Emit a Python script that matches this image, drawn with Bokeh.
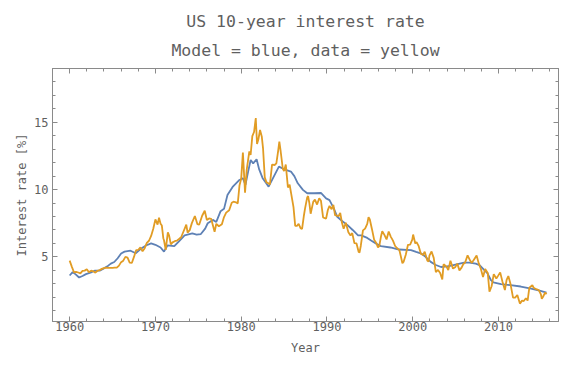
from bokeh.plotting import figure
from bokeh.models import (LinearAxis, Title, SingleIntervalTicker, Range1d,
                          ColumnDataSource, CustomLabelingPolicy)
from bokeh.embed import file_html
from bokeh.resources import INLINE

# ---------------- data ----------------
data_year = [
    1960.0, 1960.25, 1960.5, 1960.75, 1961.0, 1961.25, 1961.5, 1961.75,
    1962.0, 1962.25, 1962.5, 1962.75, 1963.0, 1963.25, 1963.5, 1963.75,
    1964.0, 1964.25, 1964.5, 1964.75, 1965.0, 1965.25, 1965.5, 1965.75,
    1966.0, 1966.25, 1966.5, 1966.75, 1967.0, 1967.25, 1967.5, 1967.75,
    1968.0, 1968.25, 1968.5, 1968.75, 1969.0, 1969.25, 1969.5, 1969.75,
    1970.0, 1970.25, 1970.42, 1970.6, 1970.75, 1970.92, 1971.0, 1971.2,
    1971.45, 1971.6, 1971.8, 1972.0, 1972.25, 1972.5, 1972.75, 1973.0,
    1973.25, 1973.6, 1973.75, 1974.0, 1974.25, 1974.6, 1974.9, 1975.1,
    1975.45, 1975.75, 1976.0, 1976.25, 1976.5, 1976.9, 1977.1, 1977.4,
    1977.75, 1978.0, 1978.25, 1978.6, 1978.9, 1979.1, 1979.4, 1979.6,
    1979.8, 1980.0, 1980.2, 1980.45, 1980.65, 1980.95, 1981.1, 1981.3,
    1981.5, 1981.7, 1981.85, 1982.0, 1982.2, 1982.4, 1982.55, 1982.75,
    1982.95, 1983.1, 1983.35, 1983.6, 1983.9, 1984.1, 1984.3, 1984.45,
    1984.6, 1984.85, 1985.0, 1985.2, 1985.45, 1985.65, 1985.95, 1986.1,
    1986.3, 1986.5, 1986.7, 1986.95, 1987.1, 1987.3, 1987.45, 1987.7,
    1987.8, 1987.95, 1988.1, 1988.4, 1988.6, 1988.85, 1989.1, 1989.3,
    1989.55, 1989.9, 1990.1, 1990.3, 1990.55, 1990.75, 1990.95, 1991.1,
    1991.35, 1991.55, 1991.75, 1991.95, 1992.2, 1992.5, 1992.75, 1992.95,
    1993.2, 1993.45, 1993.7, 1993.8, 1993.95, 1994.2, 1994.45, 1994.7,
    1994.85, 1995.0, 1995.25, 1995.5, 1995.75, 1995.95, 1996.1, 1996.3,
    1996.45, 1996.7, 1996.95, 1997.2, 1997.45, 1997.7, 1997.95, 1998.2,
    1998.45, 1998.7, 1998.8, 1998.95, 1999.2, 1999.45, 1999.7, 1999.95,
    2000.05, 2000.3, 2000.45, 2000.7, 2000.95, 2001.2, 2001.4, 2001.7,
    2001.85, 2001.95, 2002.2, 2002.45, 2002.7, 2002.95, 2003.2, 2003.45,
    2003.6, 2003.95, 2004.15, 2004.4, 2004.7, 2004.95, 2005.2, 2005.45,
    2005.7, 2005.9, 2006.1, 2006.4, 2006.7, 2006.9, 2007.1, 2007.45,
    2007.7, 2007.95, 2008.2, 2008.45, 2008.75, 2008.95, 2009.2, 2009.45,
    2009.75, 2009.95, 2010.2, 2010.45, 2010.75, 2010.95, 2011.15, 2011.4,
    2011.7, 2011.95, 2012.2, 2012.5, 2012.75, 2012.95, 2013.2, 2013.4,
    2013.6, 2013.95, 2014.1, 2014.4, 2014.7, 2014.95, 2015.05, 2015.2,
    2015.45, 2015.6,
]
data_rate = [
    4.72, 4.28, 3.86, 3.89, 3.84, 3.78, 3.96, 3.98,
    4.08, 3.86, 3.98, 3.93, 3.83, 3.97, 4.02, 4.11,
    4.17, 4.20, 4.19, 4.19, 4.19, 4.20, 4.20, 4.35,
    4.61, 4.72, 5.00, 4.94, 4.58, 4.55, 5.00, 5.50,
    5.53, 5.70, 5.42, 5.65, 6.04, 6.20, 6.56, 7.09,
    7.79, 7.40, 7.91, 7.46, 7.33, 6.39, 6.24, 5.53,
    6.82, 6.58, 5.93, 6.08, 6.17, 6.21, 6.33, 6.46,
    6.85, 7.40, 6.80, 6.99, 7.51, 8.04, 7.43, 7.39,
    8.06, 8.43, 7.74, 7.86, 7.83, 6.87, 7.46, 7.28,
    7.43, 7.96, 8.29, 8.47, 9.03, 9.10, 9.06, 8.97,
    10.30, 10.80, 12.75, 9.78, 11.50, 12.84, 12.57, 13.98,
    14.28, 15.32, 13.39, 13.72, 14.43, 13.95, 13.06, 10.91,
    10.54, 10.50, 10.38, 11.85, 11.83, 11.95, 12.83, 13.56,
    12.87, 11.57, 11.38, 11.86, 10.16, 10.37, 9.26, 8.70,
    7.30, 7.30, 7.45, 7.11, 7.08, 8.02, 8.61, 9.42,
    9.52, 8.99, 8.21, 9.09, 9.26, 8.89, 9.36, 9.18,
    7.93, 7.84, 8.47, 8.79, 8.55, 8.86, 8.08, 8.09,
    8.02, 8.27, 7.53, 7.09, 7.54, 6.84, 6.59, 6.77,
    6.03, 6.00, 5.36, 5.33, 5.83, 6.97, 7.10, 7.46,
    7.96, 7.78, 7.06, 6.28, 6.04, 5.71, 5.81, 6.51,
    6.91, 6.64, 6.30, 6.89, 6.49, 6.21, 5.81, 5.64,
    5.50, 4.81, 4.53, 4.65, 5.18, 5.90, 5.92, 6.28,
    6.66, 6.00, 6.10, 5.80, 5.24, 5.14, 5.39, 4.73,
    4.65, 5.09, 5.40, 4.93, 3.87, 4.03, 3.81, 3.33,
    4.45, 4.27, 4.02, 4.72, 4.13, 4.23, 4.50, 4.00,
    4.20, 4.47, 4.57, 5.11, 4.72, 4.56, 4.76, 5.10,
    4.52, 4.10, 3.51, 4.10, 3.81, 2.42, 2.82, 3.72,
    3.39, 3.59, 3.85, 3.20, 2.54, 3.29, 3.58, 3.00,
    1.98, 1.97, 2.17, 1.53, 1.75, 1.72, 1.93, 1.76,
    2.71, 2.90, 2.71, 2.60, 2.53, 2.21, 1.88, 2.04,
    2.36, 2.22,
]

model_year = [
    1960.0, 1960.35, 1960.7, 1961.1, 1961.5, 1961.9, 1962.5, 1962.9,
    1963.5, 1964.0, 1964.5, 1964.8, 1965.2, 1965.6, 1966.0, 1966.4,
    1967.1, 1967.7, 1968.3, 1968.9, 1969.5, 1970.0, 1970.6, 1971.0,
    1971.4, 1972.2, 1972.8, 1973.4, 1974.3, 1974.8, 1975.3, 1975.8,
    1976.1, 1976.7, 1977.1, 1977.6, 1978.0, 1978.4, 1979.0, 1979.8,
    1980.2, 1980.5, 1980.8, 1981.1, 1981.4, 1981.8, 1982.1, 1982.5,
    1982.9, 1983.2, 1983.8, 1984.4, 1985.2, 1985.8, 1986.2, 1986.6,
    1987.2, 1987.7, 1988.5, 1989.3, 1989.9, 1990.3, 1990.8, 1991.2,
    1991.8, 1992.4, 1993.0, 1993.6, 1994.0, 1994.7, 1995.1, 1995.7,
    1996.3, 1997.4, 1998.4, 1999.8, 2000.4, 2001.0, 2001.5, 2002.1,
    2002.7, 2003.3, 2004.0, 2004.5, 2005.1, 2006.0, 2006.6, 2007.35,
    2007.8, 2008.3, 2008.7, 2009.1, 2009.4, 2010.3, 2011.4, 2012.6,
    2013.8, 2014.9, 2015.6,
]
model_rate = [
    3.62, 3.87, 3.70, 3.47, 3.58, 3.72, 3.85, 3.97,
    3.98, 4.15, 4.35, 4.50, 4.62, 4.90, 5.25, 5.39,
    5.46, 5.27, 5.60, 5.85, 6.00, 5.90, 5.70, 5.39,
    5.85, 5.80, 6.20, 6.60, 6.74, 6.65, 6.70, 7.10,
    7.50, 7.75, 7.60, 8.40, 8.57, 9.60, 10.20, 10.72,
    10.85, 10.35, 11.30, 12.20, 11.95, 12.26, 11.50, 10.85,
    10.50, 10.22, 10.97, 11.71, 11.46, 11.34, 11.00, 10.47,
    9.98, 9.73, 9.73, 9.75, 9.35, 9.22, 8.60, 7.98,
    7.65, 7.36, 7.00, 6.61, 6.60, 6.41, 6.24, 6.00,
    5.80, 5.70, 5.55, 5.50, 5.37, 5.25, 5.00, 4.63,
    4.40, 4.25, 4.30, 4.35, 4.45, 4.58, 4.58, 4.50,
    4.38, 4.06, 3.80, 3.30, 3.10, 2.97, 2.90, 2.80,
    2.65, 2.47, 2.35,
]

title_text = "US 10-year interest rate"
subtitle_text = "Model = blue, data = yellow"
x_label = "Year"
y_label = "Interest rate [%]"

# ---------------- styling ----------------
FONT = "DejaVu Sans Mono"
TEXT = "#5f5f5f"
FRAME = "#8a8a8a"
BLUE = "#5E81B5"
ORANGE = "#E19C24"

p = figure(width=568, height=361,
           x_range=Range1d(1958, 2017), y_range=Range1d(0.2, 19.0),
           output_backend="svg", toolbar_location=None, title=None,
           min_border_left=52, min_border_right=10,
           min_border_top=68, min_border_bottom=40)
p.xgrid.visible = False
p.ygrid.visible = False
p.outline_line_color = FRAME
p.outline_line_width = 1
p.background_fill_color = "white"
p.border_fill_color = "white"

no_labels = CustomLabelingPolicy(code="return new Set()")


def style_axis(ax, labels=True):
    ax.axis_line_color = FRAME
    ax.major_tick_line_color = FRAME
    ax.minor_tick_line_color = FRAME
    ax.major_tick_in = 5
    ax.major_tick_out = 0
    ax.minor_tick_in = 3
    ax.minor_tick_out = 0
    ax.major_label_text_font = FONT
    ax.major_label_text_color = TEXT
    ax.axis_label_text_font = FONT
    ax.axis_label_text_color = TEXT
    ax.axis_label_text_font_style = "normal"
    ax.axis_label_text_font_size = "12px"
    if labels:
        ax.major_label_text_font_size = "12px"
    else:
        ax.major_label_text_font_size = "0px"
        ax.major_label_standoff = 0
        ax.major_label_policy = no_labels


p.xaxis.ticker = SingleIntervalTicker(interval=10, num_minor_ticks=5)
p.yaxis.ticker = SingleIntervalTicker(interval=5, num_minor_ticks=5)
style_axis(p.xaxis[0])
style_axis(p.yaxis[0])
p.xaxis.axis_label = x_label
p.yaxis.axis_label = y_label
p.xaxis.major_label_standoff = 0
p.xaxis.axis_label_standoff = 7
p.yaxis.major_label_standoff = 4
p.yaxis.axis_label_standoff = 2

top_ax = LinearAxis(ticker=SingleIntervalTicker(interval=10, num_minor_ticks=5))
style_axis(top_ax, labels=False)
p.add_layout(top_ax, "above")
right_ax = LinearAxis(ticker=SingleIntervalTicker(interval=5, num_minor_ticks=5))
style_axis(right_ax, labels=False)
p.add_layout(right_ax, "right")

sub = Title(text=subtitle_text, align="center", text_font=FONT, text_font_size="16.5px",
            text_font_style="normal", text_color=TEXT, standoff=17, offset=0)
p.add_layout(sub, "above")
main = Title(text=title_text, align="center", text_font=FONT, text_font_size="16.5px",
             text_font_style="normal", text_color=TEXT, standoff=0, offset=0)
p.add_layout(main, "above")

model_src = ColumnDataSource(dict(x=model_year, y=model_rate))
data_src = ColumnDataSource(dict(x=data_year, y=data_rate))
p.line("x", "y", source=model_src, line_color=BLUE, line_width=1.8)
p.line("x", "y", source=data_src, line_color=ORANGE, line_width=1.8)

open("out.html", "w").write(file_html(p, INLINE))
